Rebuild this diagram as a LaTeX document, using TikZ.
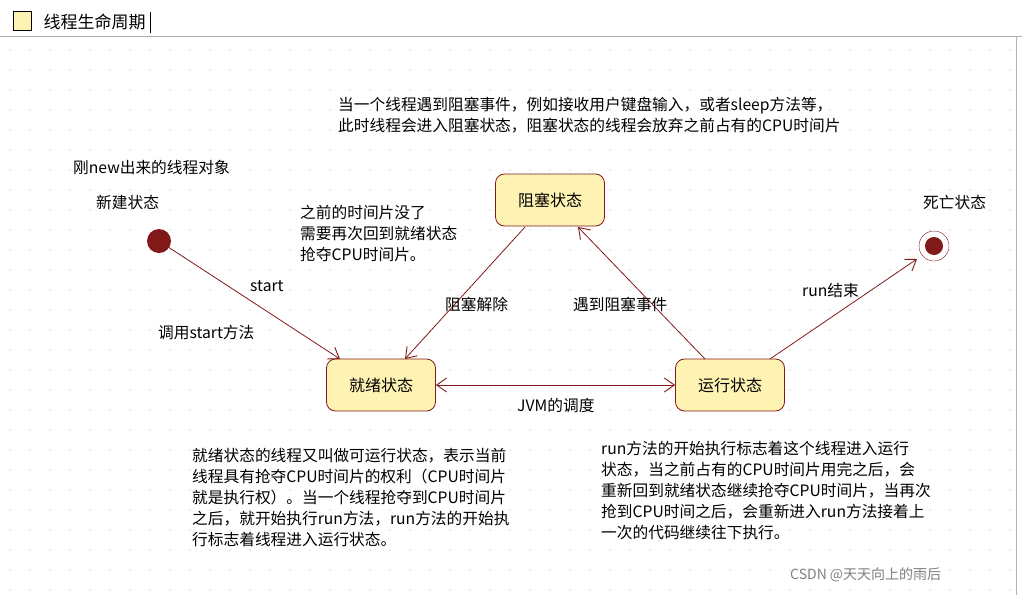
\documentclass[tikz,border=0pt]{standalone}
\usepackage{fontspec}
\setmainfont{Noto Sans CJK SC}
\usetikzlibrary{arrows.meta}
\definecolor{stateFill}{RGB}{255,243,180}
\definecolor{stateLine}{RGB}{130,25,25}
\definecolor{dotGray}{RGB}{175,175,175}
\tikzset{
  state/.style={draw=stateLine, thick, fill=stateFill, rounded corners=9pt, minimum width=109pt, minimum height=52pt, font=\fontsize{16}{18}\selectfont, inner sep=0pt},
  barb/.tip={Straight Barb[length=10pt,width=14pt,line width=0.9pt]},
  trans/.style={draw=stateLine, line width=0.8pt, -barb},
  note/.style={font=\fontsize{15.7}{21}\selectfont, align=left, inner sep=0pt, anchor=north west}
}
\begin{document}
\begin{tikzpicture}[x=1pt,y=-1pt]
  \useasboundingbox (0,0) rectangle (1022,595);
  \fill[white] (0,0) rectangle (1022,595);
  % 网格点
  \foreach \i in {0,...,50}
    \foreach \j in {0,...,27}
      \fill[dotGray] (10+20*\i,50+20*\j) circle (0.7pt);
  % 标签页
  \draw[gray!60] (0,36) -- (1022,36);
  \draw[gray!60] (1016,36) -- (1016,595);
  \draw[black, thick] (150,12) -- (150,33);
  \draw[black, fill=stateFill] (13,11) rectangle (31,30);
  \node[font=\fontsize{17}{20}\selectfont, anchor=west] (title) at (40,22) {线程生命周期};
  % 状态
  \node[state] (blocked) at (550,200) {阻塞状态};
  \node[state] (ready) at (381,385) {就绪状态};
  \node[state] (running) at (730,385) {运行状态};
  \fill[stateLine] (159,241) circle (12pt);
  \coordinate (startdot) at (159,241);
  \draw[stateLine] (934,246) circle (15pt);
  \fill[stateLine] (934,246) circle (9pt);
  \coordinate (enddot) at (934,246);
  % 连线
  \draw[trans] (startdot) -- (340,359);
  \draw[trans] (525,227) -- (405,359);
  \draw[trans] (705,359) -- (578,227);
  \draw[trans] (770,359) -- (917,259);
  \draw[trans, barb-barb] (ready.east) -- (running.west);
  % 文字
  \node[note] (starttext) at (250,280) {start};
  \node[note] (newtext) at (73,160) {刚new出来的线程对象};
  \node[note] (newstate) at (96,195) {新建状态};
  \node[note] (deadstate) at (923,195) {死亡状态};
  \node[note] (callstart) at (158,325) {调用start方法};
  \node[note] (unblock) at (445,297) {阻塞解除};
  \node[note] (meetblock) at (573,297) {遇到阻塞事件};
  \node[note] (runend) at (802,283) {run结束};
  \node[note] (jvm) at (517,398) {JVM的调度};
  \node[note] (lost) at (300,205) {之前的时间片没了\\需要再次回到就绪状态\\抢夺CPU时间片。};
  \node[note] (blocknote) at (338,97) {当一个线程遇到阻塞事件，例如接收用户键盘输入，或者sleep方法等，\\此时线程会进入阻塞状态，阻塞状态的线程会放弃之前占有的CPU时间片};
  \node[note] (readynote) at (192,448) {就绪状态的线程又叫做可运行状态，表示当前\\线程具有抢夺CPU时间片的权利（CPU时间片\\就是执行权）。当一个线程抢夺到CPU时间片\\之后，就开始执行run方法，run方法的开始执\\行标志着线程进入运行状态。};
  \node[note] (runnote) at (601,441) {run方法的开始执行标志着这个线程进入运行\\状态，当之前占有的CPU时间片用完之后，会\\重新回到就绪状态继续抢夺CPU时间片，当再次\\抢到CPU时间之后，会重新进入run方法接着上\\一次的代码继续往下执行。};
  \node[note, font=\fontsize{14}{16}\selectfont, text=gray] (mark) at (790,567) {CSDN @天天向上的雨后};
\end{tikzpicture}
\end{document}
